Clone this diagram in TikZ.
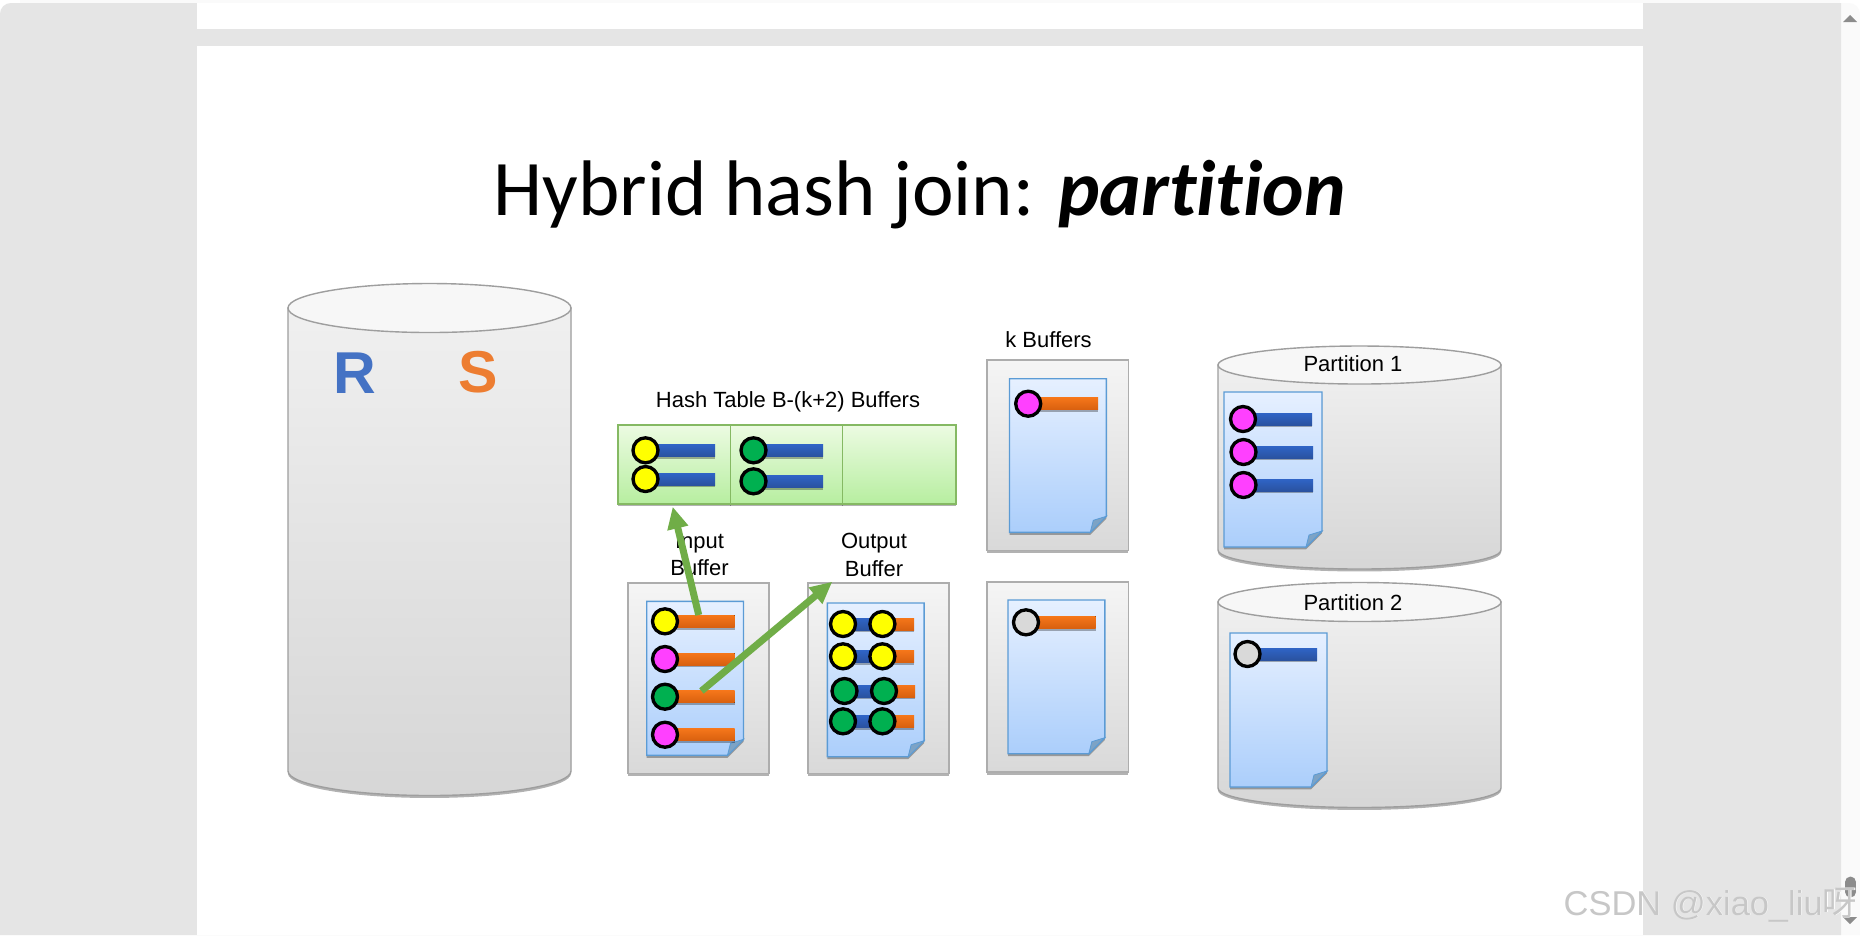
\documentclass[tikz,border=0pt]{standalone}
\usepackage{fontspec}
\usetikzlibrary{arrows.meta,shadows,positioning}
\newfontfamily\titlefont[Ligatures=NoCommon]{Carlito}
\newfontfamily\labelfont{Liberation Sans}
\newfontfamily\cjkfont{Noto Sans CJK SC}
\definecolor{rblue}{HTML}{4472C4}
\definecolor{sorange}{HTML}{ED7D31}
\definecolor{flowgreen}{HTML}{70AD47}
\definecolor{tupyellow}{HTML}{FFFF00}
\definecolor{tupmagenta}{HTML}{FF40FF}
\definecolor{tupgreen}{HTML}{00B050}
\definecolor{tupgray}{HTML}{D9D9D9}
\definecolor{sheetline}{HTML}{5B9BD5}
\definecolor{sheettop}{HTML}{E6F0FF}
\definecolor{sheetbot}{HTML}{ABCEFB}
\definecolor{hashtop}{HTML}{ECFBE2}
\definecolor{hashbot}{HTML}{B7EEA0}
\definecolor{bartop}{HTML}{2F64C6}
\definecolor{barbot}{HTML}{2A52A0}
\definecolor{ortop}{HTML}{F5761A}
\definecolor{orbot}{HTML}{D8600F}
\tikzset{
  softshadow/.style={drop shadow={shadow xshift=0pt,shadow yshift=-0.7pt,opacity=.3,fill=black}},
  bufbox/.style={draw=black!32,line width=0.016cm,top color=black!4,bottom color=black!15,softshadow,
    minimum width=1.41cm,minimum height=1.9cm,inner sep=0pt},
  hashcell/.style={draw=flowgreen!85,line width=0.018cm,top color=hashtop,bottom color=hashbot,
    softshadow,minimum height=0.787cm,inner sep=0pt},
  sheet/.style={draw=sheetline,line width=0.014cm,top color=sheettop,bottom color=sheetbot,softshadow},
  foldcorner/.style={draw=sheetline,line width=0.008cm,fill=sheetline!70!gray!85},
  cylbody/.style={draw=black!38,line width=0.014cm,top color=black!6,bottom color=black!16,softshadow},
  cyltop/.style={draw=black!38,line width=0.014cm,fill=black!3},
  dot/.style={circle,draw=black,line width=0.95pt,minimum size=0.25cm,inner sep=0pt},
  bluebar/.style={top color=bartop,bottom color=barbot,softshadow},
  orangebar/.style={top color=ortop,bottom color=orbot,softshadow},
  flow/.style={-{Triangle[length=0.22cm,width=0.2cm]},draw=flowgreen,line width=0.07cm},
  lbl/.style={font=\labelfont\fontsize{6.25}{7.8}\selectfont,align=center,inner sep=0pt},
}
\newcommand{\cyl}[4]{% centre x, top y, bottom y, radius y
  \draw[cylbody] (#1-141.5,#2) -- (#1-141.5,#3) arc[start angle=180,end angle=0,x radius=141.5,y radius=#4]
    -- (#1+141.5,#2) -- cycle;
  \draw[cyltop] (#1,#2) ellipse[x radius=141.5,y radius=#4];
}
\newcommand{\docpage}[4]{% left, top, width, height
  \draw[sheet] (#1,#2) -- (#1+#3,#2) -- (#1+#3,#2+#4-16) -- (#1+#3-16,#2+#4) -- (#1,#2+#4) -- cycle;
  \draw[foldcorner] (#1+#3,#2+#4-16) -- (#1+#3-13,#2+#4-12) -- (#1+#3-16,#2+#4) -- cycle;
}
\newcommand{\rec}[6]{% name, x, y, bar end, bar style, colour
  \fill[#5] (#2,#3-6) rectangle (#4,#3+6);
  \node[dot,fill=#6] (#1) at (#2,#3) {};
}
\begin{document}
\begin{tikzpicture}[x=0.01cm,y=-0.01cm]
\useasboundingbox (0,0) rectangle (1860,935);
% window
\fill[black!2] (0,0) rectangle (1860,935);
\fill[white] (0,0) rectangle (20,20) (1840,0) rectangle (1860,20);
\fill[black!2] (1860,14) arc[start angle=0,end angle=-90,radius=11] -- (11,3) arc[start angle=270,end angle=180,radius=11] -- (0,935) -- (1860,935) -- cycle;
\fill[black!10] (0,935) -- (0,14) arc[start angle=180,end angle=270,radius=11] -- (1841,3) -- (1841,935) -- cycle;
\fill[white] (197,3) rectangle (1643,29);
\fill[white] (197,46) rectangle (1643,935);
\fill[black!45] (1843,22) -- (1857,22) -- (1850,15) -- cycle;
\fill[black!45] (1850.5,882) circle[radius=5.5];
\fill[black!45] (1845,882) rectangle (1856,892);
\fill[black!45] (1850.5,892) circle[radius=5.5];
\fill[black!45] (1843,917) -- (1857,917) -- (1850,924) -- cycle;
% title
\node[anchor=base,inner sep=0pt,font=\titlefont\fontsize{22.4}{26}\selectfont] (title) at (919.5,215)
  {Hybrid hash join: \textbf{\textit{partition}}};
% disks
\cyl{429.5}{308}{771}{24.5}
\node[font=\labelfont\bfseries\fontsize{16.8}{20}\selectfont,text=rblue,inner sep=0pt,anchor=base] (relr) at (354.5,393) {R};
\node[font=\labelfont\bfseries\fontsize{16.8}{20}\selectfont,text=sorange,inner sep=0pt,anchor=base] (rels) at (478,392) {S};
\cyl{1359.5}{365}{550}{19}
\node[lbl] (part1) at (1353,364) {Partition 1};
\docpage{1224}{392}{98}{155}
\rec{p1a}{1243}{419}{1312}{bluebar}{tupmagenta}
\rec{p1b}{1243.5}{452}{1313}{bluebar}{tupmagenta}
\rec{p1c}{1243.5}{485}{1313}{bluebar}{tupmagenta}
\cyl{1359.5}{602}{788}{19.5}
\node[lbl] (part2) at (1353,603) {Partition 2};
\docpage{1230}{633}{97}{154}
\rec{p2a}{1247.5}{654}{1317}{bluebar}{tupgray}
% hash table
\node[lbl] (hashlabel) at (788,402) {Hash Table B-(k+2) Buffers};
\node[hashcell,minimum width=1.125cm] (hash1) at (674.25,464.3) {};
\node[hashcell,minimum width=1.12cm] (hash2) at (786.5,464.3) {};
\node[hashcell,minimum width=1.135cm] (hash3) at (899.25,464.3) {};
\rec{ha}{645.5}{450.3}{715}{bluebar}{tupyellow}
\rec{hb}{645.5}{479}{715}{bluebar}{tupyellow}
\rec{hc}{753.5}{450.3}{823}{bluebar}{tupgreen}
\rec{hd}{753.5}{481.3}{823}{bluebar}{tupgreen}
% k buffers
\node[lbl] (klabel) at (1048.5,340) {k Buffers};
\node[bufbox] (ktop) at (1057.75,455.3) {};
\docpage{1009.5}{378.7}{96.8}{153.6}
\rec{ka}{1028.2}{403.7}{1098}{orangebar}{tupmagenta}
\node[bufbox] (kbot) at (1057.75,677) {};
\docpage{1008}{600}{96.8}{153.7}
\rec{kb}{1026}{622.3}{1095.6}{orangebar}{tupgray}
% input and output
\node[lbl] (inlabel) at (699.5,554.5) {Input\\Buffer};
\node[lbl] (outlabel) at (874,555) {Output\\Buffer};
\node[bufbox] (inbuf) at (698.5,678.3) {};
\docpage{646.7}{601.3}{96.8}{154}
\rec{ina}{665}{621.3}{734.7}{orangebar}{tupyellow}
\rec{inb}{665}{659}{734.7}{orangebar}{tupmagenta}
\rec{inc}{665}{696.7}{734.7}{orangebar}{tupgreen}
\rec{ind}{665}{734.7}{734.7}{orangebar}{tupmagenta}
\node[bufbox] (outbuf) at (878.3,678.3) {};
\docpage{827.3}{603}{96.8}{153.7}
\foreach \n/\xa/\xb/\xc/\yy/\col in {a/843/882.4/914/624/tupyellow,b/843/882.4/914/656.3/tupyellow,
    c/844.5/884/915/691/tupgreen,d/843/882.4/914/721.3/tupgreen}{
  \rec{out\n1}{\xa}{\yy}{\xb}{bluebar}{\col}
  \rec{out\n2}{\xb}{\yy}{\xc}{orangebar}{\col}
}
% moves
\coordinate (fromyellow) at (698.7,615);
\coordinate (togreen) at (701.4,691);
\coordinate (tohash) at (672.7,506.7);
\coordinate (toout) at (832.3,581.7);
\draw[flow] (fromyellow) -- (tohash);
\draw[flow] (togreen) -- (toout);
% watermark
\node[anchor=base west,inner sep=0pt,text=white,font=\labelfont\fontsize{9.8}{12}\selectfont] (markb) at (1563.5,915.5) {CSDN @xiao\_liu{\cjkfont 呀}};
\node[anchor=base west,inner sep=0pt,text=black!22,font=\labelfont\fontsize{9.8}{12}\selectfont] (mark) at (1563,915) {CSDN @xiao\_liu{\cjkfont 呀}};
\end{tikzpicture}
\end{document}
